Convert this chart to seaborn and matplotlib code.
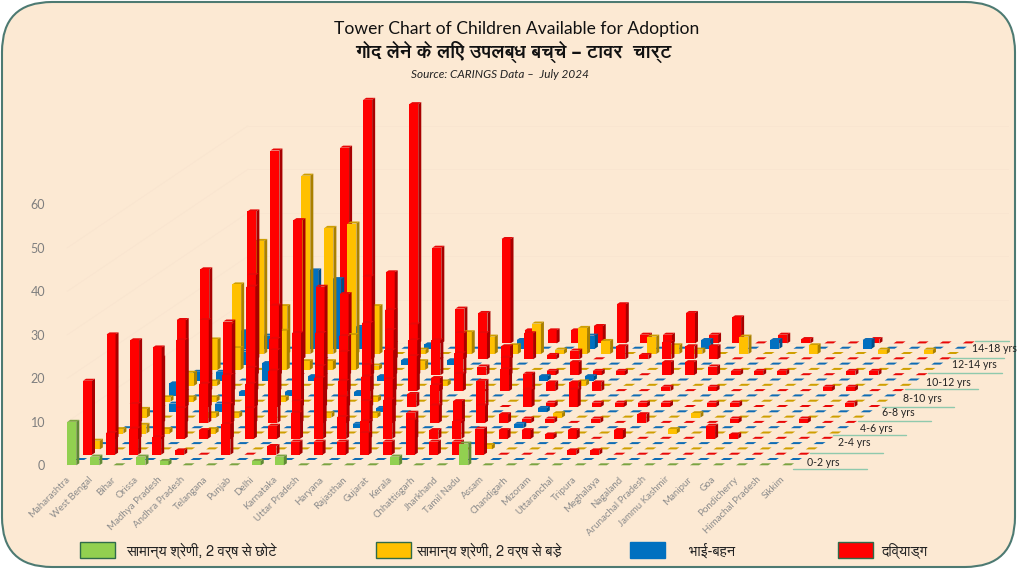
import matplotlib
matplotlib.use("Agg")
import matplotlib.pyplot as plt
from matplotlib.patches import FancyBboxPatch, Rectangle
import seaborn as sns

states = ["Maharashtra", "West Bengal", "Bihar", "Orissa", "Madhya Pradesh", "Andhra Pradesh",
          "Telangana", "Punjab", "Delhi", "Karnataka", "Uttar Pradesh", "Haryana", "Rajasthan",
          "Gujarat", "Kerala", "Chhattisgarh", "Jharkhand", "Tamil Nadu", "Assam", "Chandigarh",
          "Mizoram", "Uttaranchal", "Tripura", "Meghalaya", "Nagaland", "Arunachal Pradesh",
          "Jammu Kashmir", "Manipur", "Goa", "Pondicherry", "Himachal Pradesh", "Sikkim"]
age_labels = ["0-2 yrs", "2-4 yrs", "4-6 yrs", "6-8 yrs", "8-10 yrs", "10-12 yrs", "12-14 yrs", "14-18 yrs"]
value_ticks = [0, 10, 20, 30, 40, 50, 60]

# Disabled children, one list per age bracket
red_0_2 = [17, 5, 6, 4, 1, 0, 7, 0, 2, 3, 3, 3, 5, 3, 8, 3, 3, 6, 0, 0, 0, 1, 1, 0, 0, 0, 0, 0, 0, 0, 0, 0]
red_2_4 = [24, 8, 21, 7, 2, 8, 7, 3, 6, 14, 5, 4, 9, 6, 2, 4, 0, 2, 2, 1, 2, 0, 2, 0, 0, 0, 3, 1, 0, 0, 0, 0]
red_4_6 = [19, 15, 19, 9, 11, 9, 12, 5, 13, 6, 5, 10, 0, 4, 5, 4, 2, 1, 1, 0, 1, 0, 2, 0, 0, 0, 1, 0, 0, 1, 0, 0]
red_6_8 = [0, 20, 20, 19, 9, 13, 17, 17, 6, 7, 13, 3, 5, 0, 6, 0, 4, 1, 4, 1, 1, 1, 1, 0, 1, 1, 0, 0, 0, 0, 1, 0]
red_8_10 = [0, 28, 16, 24, 12, 0, 24, 9, 6, 14, 8, 3, 4, 0, 5, 4, 2, 2, 2, 0, 0, 1, 0, 1, 0, 0, 0, 0, 1, 1, 0, 0]
red_10_12 = [0, 0, 23, 16, 0, 0, 9, 12, 15, 8, 8, 5, 2, 4, 0, 1, 3, 1, 1, 0, 3, 3, 2, 1, 1, 1, 0, 0, 1, 1, 0, 0]
red_12_14 = [0, 34, 48, 32, 0, 15, 19, 20, 8, 0, 6, 6, 3, 6, 1, 2, 0, 3, 1, 4, 3, 3, 0, 0, 0, 0, 0, 0, 0, 0, 0, 0]
red_14_18 = [0, 0, 0, 0, 45, 56, 0, 55, 22, 8, 7, 24, 3, 3, 3, 4, 9, 2, 2, 7, 2, 6, 0, 2, 1, 0, 0, 1, 0, 0, 0, 0]

# General category, older than two
gold_2_4 = [2, 0, 0, 0, 0, 0, 0, 0, 0, 0, 0, 0, 0, 0, 0, 0, 0, 1, 0, 0, 0, 0, 0, 0, 0, 0, 0, 0, 0, 0, 0, 0]
gold_4_6 = [1, 2, 1, 0, 1, 0, 0, 0, 0, 0, 0, 0, 0, 0, 0, 0, 0, 0, 0, 0, 0, 0, 0, 0, 1, 0, 0, 0, 0, 0, 0, 0]
gold_6_8 = [2, 0, 0, 1, 1, 0, 0, 0, 1, 0, 1, 0, 0, 0, 0, 0, 0, 0, 1, 0, 0, 0, 0, 0, 1, 0, 0, 0, 0, 0, 0, 0]
gold_8_10 = [1, 1, 1, 0, 0, 1, 0, 0, 0, 1, 0, 0, 0, 0, 0, 0, 0, 0, 0, 0, 0, 0, 0, 0, 0, 0, 0, 0, 0, 0, 0, 0]
gold_10_12 = [3, 1, 0, 0, 0, 0, 0, 0, 0, 0, 0, 1, 0, 0, 0, 0, 0, 1, 0, 0, 0, 0, 0, 0, 0, 0, 0, 0, 0, 0, 0, 0]
gold_12_14 = [7, 5, 0, 9, 2, 2, 8, 1, 0, 2, 0, 0, 0, 0, 0, 0, 0, 0, 0, 0, 0, 0, 0, 0, 0, 0, 0, 0, 0, 0, 0, 0]
gold_14_18 = [16, 26, 11, 41, 29, 30, 11, 0, 1, 0, 5, 4, 2, 7, 1, 6, 3, 0, 4, 2, 1, 0, 4, 0, 0, 2, 0, 0, 1, 0, 1, 0]

# Siblings
blue_0_2 = [0] * 32
blue_2_4 = [0] * 32
blue_4_6 = [0, 0, 0, 0, 0, 0, 0, 0, 0, 0, 1, 0, 0, 0, 0, 0, 0, 1, 0, 0, 0, 0, 0, 0, 0, 0, 0, 0, 0, 0, 0, 0]
blue_6_8 = [0, 2, 0, 2, 0, 0, 0, 0, 0, 0, 1, 0, 0, 0, 0, 0, 0, 1, 0, 0, 0, 0, 0, 0, 0, 0, 0, 0, 0, 0, 0, 0]
blue_8_10 = [3, 0, 0, 1, 0, 1, 0, 0, 1, 0, 0, 0, 0, 0, 0, 0, 0, 0, 0, 0, 0, 0, 0, 0, 0, 0, 0, 0, 0, 0, 0, 0]
blue_10_12 = [2, 2, 0, 4, 0, 1, 0, 0, 1, 0, 0, 0, 0, 0, 0, 1, 0, 1, 0, 0, 0, 0, 0, 0, 0, 0, 0, 0, 0, 0, 0, 0]
blue_12_14 = [0, 3, 0, 0, 0, 0, 0, 0, 1, 0, 1, 0, 0, 0, 0, 0, 0, 0, 0, 0, 0, 0, 0, 0, 0, 0, 0, 0, 0, 0, 0, 0]
blue_14_18 = [4, 3, 0, 18, 16, 5, 0, 0, 1, 0, 0, 0, 2, 0, 0, 3, 0, 0, 0, 0, 2, 0, 0, 2, 0, 0, 0, 2, 0, 0, 0, 0]

# General category, younger than two
green_0_2 = [10, 2, 0, 2, 1, 0, 0, 0, 1, 2, 0, 0, 0, 0, 2, 0, 0, 5, 0, 0, 0, 0, 0, 0, 0, 0, 0, 0, 0, 0, 0, 0]

# Depth rows, front to back
rows = [("green", green_0_2), ("blue", blue_0_2), ("red", red_0_2),
        ("gold", gold_2_4), ("blue", blue_2_4), ("red", red_2_4),
        ("gold", gold_4_6), ("blue", blue_4_6), ("red", red_4_6),
        ("gold", gold_6_8), ("blue", blue_6_8), ("red", red_6_8),
        ("gold", gold_8_10), ("blue", blue_8_10), ("red", red_8_10),
        ("gold", gold_10_12), ("blue", blue_10_12), ("red", red_10_12),
        ("gold", gold_12_14), ("blue", blue_12_14), ("red", red_12_14),
        ("gold", gold_14_18), ("blue", blue_14_18), ("red", red_14_18)]

sns.set_theme(style="white")
face = dict(zip(["green", "gold", "blue", "red"], sns.color_palette(["#92d050", "#ffc000", "#0070c0", "#ff0000"])))
side = dict(zip(["green", "gold", "blue", "red"], sns.color_palette(["#5f8a35", "#a98000", "#004f88", "#a80000"])))
roof = dict(zip(["green", "gold", "blue", "red"], sns.color_palette(["#7ba442", "#cf9f00", "#0f6cb4", "#e80808"])))

hindi_fonts = ["FreeSans", "Lato", "DejaVu Sans"]
plt.rcParams["font.family"] = ["Lato", "DejaVu Sans"]

W, H = 1024, 579
fig = plt.figure(figsize=(W / 100, H / 100), dpi=100, facecolor="white")

# Page layer in pixel units: rounded panel, titles, legend
page = fig.add_axes([0, 0, 1, 1], zorder=0)
page.set_xlim(0, W)
page.set_ylim(H, 0)
page.axis("off")
page.add_patch(FancyBboxPatch((52, 52), 913, 465, boxstyle="round,pad=50,rounding_size=50",
                              fc="#fce9d3", ec="#4d7a72", lw=1.5))

page.text(517, 29, "Tower Chart of Children Available for Adoption", ha="center", va="center",
          fontsize=12.6, color="#111111")
page.text(513, 52, "गोद लेने के लिए उपलब्ध बच्चे – टावर  चार्ट", ha="center", va="center",
          fontsize=13.6, color="#111111", family=hindi_fonts, weight="semibold")
page.text(500, 74, "Source: CARINGS Data –  July 2024", ha="center", va="center",
          fontsize=8.5, style="italic", color="#222222")

legend_items = [(80, "#92d050", "#2f6b4a", 126, "सामान्य श्रेणी, 2 वर्ष से छोटे"),
                (376, "#ffc000", "#2f6b4a", 416, "सामान्य श्रेणी, 2 वर्ष से बड़े"),
                (630, "#0070c0", "#0070c0", 689, "भाई-बहन"),
                (838, "#ff0000", "#2f6b4a", 881, "दिव्याड्ग")]
for box_x, fill, edge, text_x, label in legend_items:
    page.add_patch(Rectangle((box_x, 542), 35, 16, fc=fill, ec=edge, lw=1.0))
    page.text(text_x, 551, label, va="center", fontsize=10.5, color="#222222", family=hindi_fonts)

# Depth labels with their underlines, front to back
label_spots = [(807, 463), (838, 443), (860, 428), (882, 413), (903, 399), (926, 382), (952, 365), (972, 349)]
line_spans = [(793, 867, 469), (810, 883, 453), (833, 906, 435), (858, 931, 421), (882, 954, 407),
              (905, 978, 389), (928, 1002, 373), (950, 1004, 358)]
for (tx, ty), label in zip(label_spots, age_labels):
    page.text(tx, ty, label, va="center", fontsize=7.6, color="#222222")
for x0, x1, y in line_spans + [(975, 1009, 341)]:
    page.plot([x0, x1], [y, y], color="#8fc9ad", lw=1)

# Chart axes: x counts columns, y counts children
PX_COL, PX_UNIT = 23.06, 4.35
ORIGIN_X, ORIGIN_Y = 67.3, 465.3
LEFT, RIGHT, TOP, BOTTOM = 48, 1020, 90, 472
ax = fig.add_axes([LEFT / W, 1 - BOTTOM / H, (RIGHT - LEFT) / W, (BOTTOM - TOP) / H], zorder=1)
ax.patch.set_alpha(0)
ax.set_xlim((LEFT - ORIGIN_X) / PX_COL, (RIGHT - ORIGIN_X) / PX_COL)
ax.set_ylim((ORIGIN_Y - BOTTOM) / PX_UNIT, (ORIGIN_Y - TOP) / PX_UNIT)

# One depth step shifts a column right and up; faces share the same oblique shift
STEP_X, STEP_Y = 7.85 / PX_COL, 5.3 / PX_UNIT
BAR_W = 9.0 / PX_COL
SIDE_X, SIDE_Y = 3.0 / PX_COL, 2.0 / PX_UNIT

# Faint back and side wall lines
wall_x = 23 * STEP_X
wall_y = 23 * STEP_Y
for v in range(0, 60, 10):
    ax.plot([wall_x, (1008 - ORIGIN_X) / PX_COL], [wall_y + v, wall_y + v], color="#f9e5d0", lw=0.7, zorder=1)
    ax.plot([0, wall_x], [v, wall_y + v], color="#f9e5d0", lw=0.7, zorder=1)

for r in range(len(rows) - 1, -1, -1):
    kind, values = rows[r]
    z = 10 + (len(rows) - r)
    for c, v in enumerate(values):
        x0 = c + r * STEP_X
        y0 = r * STEP_Y
        ax.fill([x0, x0 + BAR_W, x0 + BAR_W + SIDE_X, x0 + SIDE_X],
                [y0 + v, y0 + v, y0 + v + SIDE_Y, y0 + v + SIDE_Y],
                color=roof[kind], lw=0, zorder=z)
        if v > 0:
            ax.bar(x0, v, width=BAR_W, bottom=y0, align="edge", color=face[kind], lw=0, zorder=z)
            ax.fill([x0 + BAR_W, x0 + BAR_W + SIDE_X, x0 + BAR_W + SIDE_X, x0 + BAR_W],
                    [y0, y0 + SIDE_Y, y0 + v + SIDE_Y, y0 + v],
                    color=side[kind], lw=0, zorder=z)

ax.set_yticks(value_ticks)
ax.set_yticklabels([str(t) for t in value_ticks], color="#7f7f7f", fontsize=9)
ax.set_xticks([i - 0.1 for i in range(len(states))])
ax.set_xticklabels(states, rotation=45, ha="right", va="top", rotation_mode="anchor",
                   color="#8c8c8c", fontsize=7)
ax.tick_params(axis="both", length=0, pad=2)
ax.grid(False)
sns.despine(ax=ax, left=True, bottom=True)

fig.savefig("out.png", dpi=100, facecolor="white")
